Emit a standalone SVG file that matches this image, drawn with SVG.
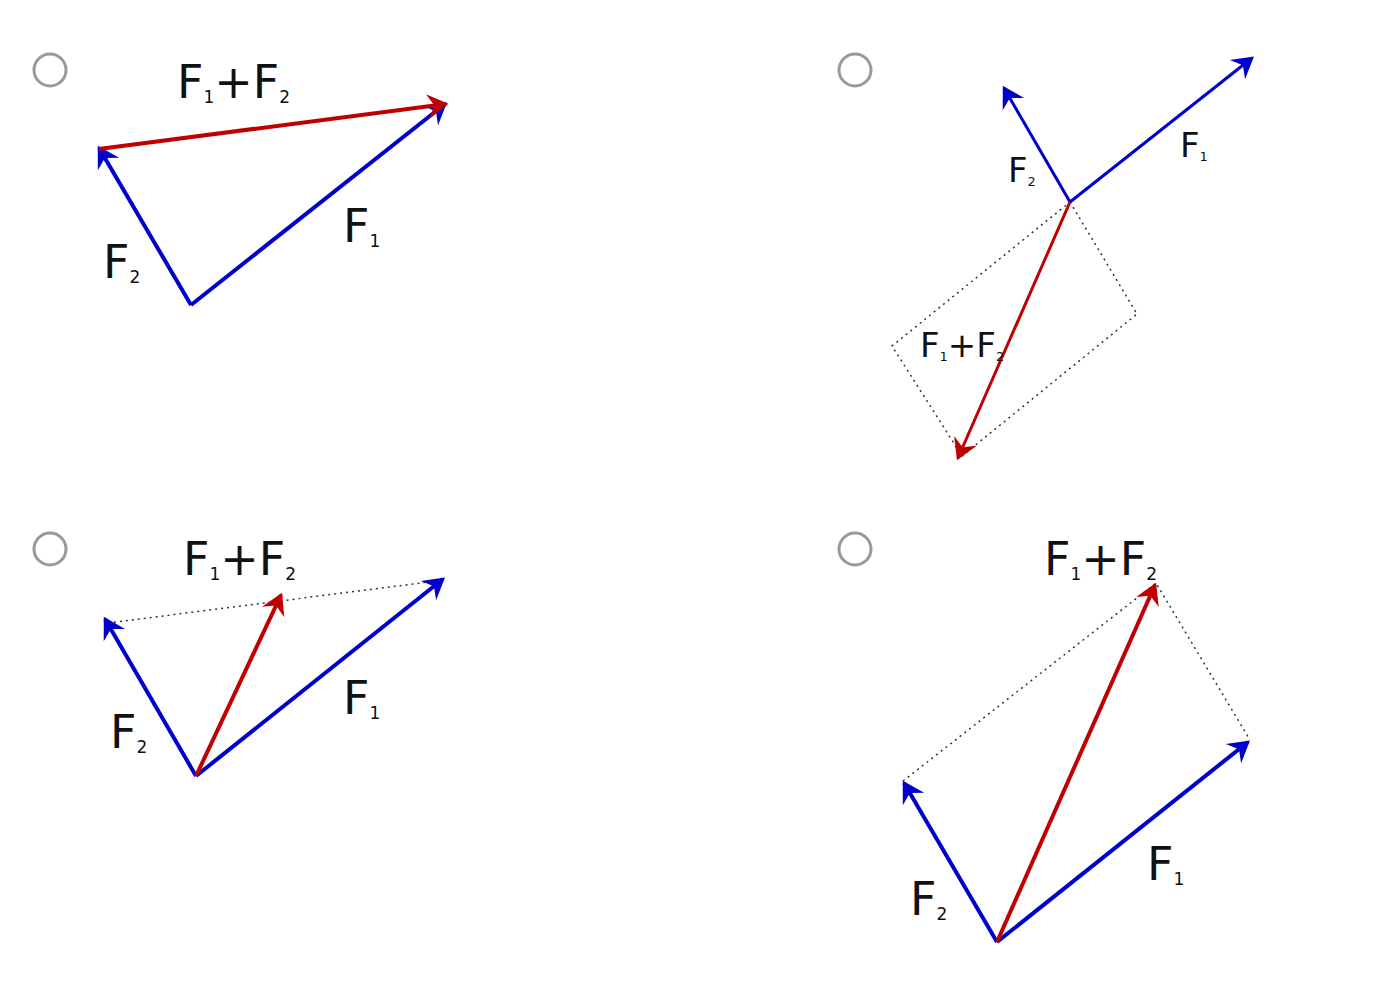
<svg xmlns="http://www.w3.org/2000/svg" width="1393" height="990" viewBox="0 0 1393 990">
<style>
.b{stroke:#0000cc;stroke-width:4;fill:none}
.r{stroke:#c00000;stroke-width:4;fill:none}
.d{stroke:#333;stroke-width:1.5;stroke-dasharray:2 4;fill:none}
.rad{fill:#fff;stroke:#999;stroke-width:3}
text{font-family:"DejaVu Sans","Liberation Sans",sans-serif;fill:#111}
.L{font-size:46px}.M{font-size:34px}
.s{font-size:17px}.ss{font-size:13px}
</style>
<defs>
<marker id="ab" viewBox="0 0 10 10" refX="9" refY="5" markerWidth="8" markerHeight="8" markerUnits="userSpaceOnUse" orient="auto" style="overflow:visible">
<path d="M10,5 L-2,-2 L2,5 L-2,12 Z" fill="#0000cc" transform="scale(2.2) translate(-4.5,-2.7)"/>
</marker>
<marker id="ar" viewBox="0 0 10 10" refX="9" refY="5" markerWidth="8" markerHeight="8" markerUnits="userSpaceOnUse" orient="auto" style="overflow:visible">
<path d="M10,5 L-2,-2 L2,5 L-2,12 Z" fill="#c00000" transform="scale(2.2) translate(-4.5,-2.7)"/>
</marker>
</defs>
<g id="radios">
<circle class="rad" cx="50" cy="70" r="16"/>
<circle class="rad" cx="855" cy="70" r="16"/>
<circle class="rad" cx="50" cy="549" r="16"/>
<circle class="rad" cx="855" cy="549" r="16"/>
</g>
<g id="connectors">
<line class="b" x1="191" y1="305" x2="445" y2="104" marker-end="url(#ab)"/>
<line class="b" x1="191" y1="305" x2="99" y2="148" marker-end="url(#ab)"/>
<line class="r" x1="99" y1="149" x2="446" y2="104" marker-end="url(#ar)"/>

<polygon class="d" points="1070,202 1137,314 962,456 892,346"/>
<line class="b" style="stroke-width:3" x1="1070" y1="202" x2="1252" y2="58" marker-end="url(#ab)"/>
<line class="b" style="stroke-width:3" x1="1070" y1="202" x2="1004" y2="88" marker-end="url(#ab)"/>
<line class="r" style="stroke-width:3" x1="1070" y1="202" x2="958" y2="458" marker-end="url(#ar)"/>

<line class="d" x1="108" y1="623" x2="444" y2="580"/>
<line class="b" x1="196" y1="776" x2="443" y2="579" marker-end="url(#ab)"/>
<line class="b" x1="196" y1="776" x2="105" y2="619" marker-end="url(#ab)"/>
<line class="r" x1="196" y1="776" x2="281" y2="595" marker-end="url(#ar)"/>

<polyline class="d" points="903,781 1156,583 1250,740"/>
<line class="b" x1="997" y1="942" x2="1248" y2="742" marker-end="url(#ab)"/>
<line class="b" x1="997" y1="942" x2="904" y2="783" marker-end="url(#ab)"/>
<line class="r" x1="997" y1="942" x2="1155" y2="585" marker-end="url(#ar)"/>
</g>
<g id="labels">
<text class="L" x="177" y="98">F<tspan class="s" dy="5">1</tspan><tspan dy="-5">+F</tspan><tspan class="s" dy="5">2</tspan></text>
<text class="L" x="343" y="242">F<tspan class="s" dy="5">1</tspan></text>
<text class="L" x="103" y="278">F<tspan class="s" dy="5">2</tspan></text>

<text class="M" x="1180" y="157">F<tspan class="ss" dy="4">1</tspan></text>
<text class="M" x="1008" y="182">F<tspan class="ss" dy="4">2</tspan></text>
<text class="M" x="920" y="357">F<tspan class="ss" dy="4">1</tspan><tspan dy="-4">+F</tspan><tspan class="ss" dy="4">2</tspan></text>

<text class="L" x="183" y="575">F<tspan class="s" dy="5">1</tspan><tspan dy="-5">+F</tspan><tspan class="s" dy="5">2</tspan></text>
<text class="L" x="343" y="714">F<tspan class="s" dy="5">1</tspan></text>
<text class="L" x="110" y="748">F<tspan class="s" dy="5">2</tspan></text>

<text class="L" x="1044" y="575">F<tspan class="s" dy="5">1</tspan><tspan dy="-5">+F</tspan><tspan class="s" dy="5">2</tspan></text>
<text class="L" x="1147" y="880">F<tspan class="s" dy="5">1</tspan></text>
<text class="L" x="910" y="915">F<tspan class="s" dy="5">2</tspan></text>
</g>
</svg>
